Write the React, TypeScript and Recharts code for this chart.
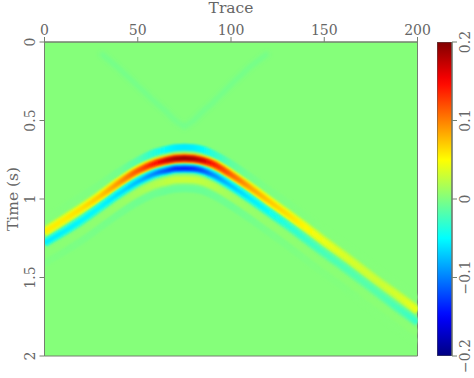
import { Bar, ComposedChart, Line, ReferenceArea, XAxis, YAxis } from 'recharts';

const traces = [0, 10, 20, 30, 40, 50, 60, 65, 70, 75, 80, 85, 90, 100, 110, 120, 130, 140, 150, 160, 170, 180, 190, 200];
const traceTicks = [0, 50, 100, 150, 200];
const timeTicks = [0, 0.5, 1, 1.5, 2];
const scaleTicks = [-0.2, -0.1, 0, 0.1, 0.2];

const peakTime = [1.21, 1.135, 1.06, 0.98, 0.895, 0.82, 0.77, 0.755, 0.743, 0.74, 0.743, 0.755, 0.775, 0.845, 0.925, 1.01, 1.095, 1.18, 1.27, 1.355, 1.445, 1.535, 1.62, 1.71];
const troughTime = [1.28, 1.21, 1.135, 1.05, 0.965, 0.89, 0.835, 0.82, 0.808, 0.805, 0.808, 0.82, 0.845, 0.915, 0.995, 1.08, 1.165, 1.255, 1.345, 1.43, 1.52, 1.61, 1.7, 1.785];
const upperTime = [1.13, 1.055, 0.98, 0.905, 0.825, 0.755, 0.7, 0.685, 0.673, 0.67, 0.673, 0.685, 0.71, 0.775, 0.855, 0.94, 1.02, 1.11, 1.2, 1.285, 1.375, 1.465, 1.55, 1.64];
const sideTime = [1.35, 1.28, 1.205, 1.12, 1.035, 0.96, 0.905, 0.89, 0.878, 0.875, 0.878, 0.89, 0.915, 0.985, 1.065, 1.15, 1.235, 1.325, 1.415, 1.5, 1.59, 1.68, 1.77, 1.855];
const tailTime = [1.41, 1.34, 1.265, 1.18, 1.095, 1.02, 0.965, 0.95, 0.938, 0.935, 0.938, 0.95, 0.975, 1.045, 1.125, 1.21, 1.295, 1.385, 1.475, 1.56, 1.65, 1.74, 1.83, 1.915];
const armTime = [null, null, null, 0.07, 0.17, 0.28, 0.39, 0.44, 0.5, 0.54, 0.5, 0.44, 0.39, 0.27, 0.16, 0.07, null, null, null, null, null, null, null, null];

const peakAmp = [0.055, 0.055, 0.06, 0.07, 0.09, 0.115, 0.145, 0.165, 0.18, 0.185, 0.18, 0.165, 0.14, 0.11, 0.085, 0.07, 0.06, 0.05, 0.04, 0.034, 0.03, 0.028, 0.032, 0.04];
const troughAmp = [-0.06, -0.058, -0.055, -0.055, -0.065, -0.08, -0.105, -0.12, -0.135, -0.14, -0.135, -0.12, -0.1, -0.075, -0.06, -0.05, -0.038, -0.03, -0.025, -0.022, -0.02, -0.02, -0.025, -0.032];
const upperAmp = [0, -0.001, -0.002, -0.003, -0.007, -0.018, -0.04, -0.05, -0.058, -0.06, -0.058, -0.05, -0.036, -0.015, -0.006, -0.003, -0.002, -0.001, 0, 0, 0, 0, 0, 0];
const sideAmp = [0.001, 0.002, 0.003, 0.004, 0.007, 0.012, 0.018, 0.022, 0.025, 0.025, 0.025, 0.022, 0.018, 0.01, 0.007, 0.005, 0.004, 0.003, 0.002, 0.002, 0.002, 0.002, 0.002, 0.002];
const tailAmp = [-0.002, -0.003, -0.004, -0.005, -0.006, -0.008, -0.009, -0.01, -0.01, -0.01, -0.01, -0.01, -0.009, -0.008, -0.006, -0.004, -0.003, -0.002, -0.001, -0.001, 0, 0, 0, 0];

const table = traces.map((trace, i) => ({
  trace,
  peak: peakTime[i],
  trough: troughTime[i],
  upper: upperTime[i],
  side: sideTime[i],
  tail: tailTime[i],
  arm: armTime[i],
}));
const scaleBar = [{ name: 'scale', range: [-0.2, 0.2] }];

const TEXT = '#666';
const FRAME = '#74806f';
const FONT = '"DejaVu Serif", serif';

// jet colormap over the -0.2..0.2 clip
function jet(v: number) {
  const t = (v + 0.2) / 0.4;
  const ch = (c: number) => Math.round(255 * Math.max(0, Math.min(1, 1.5 - Math.abs(4 * t - c))));
  return `rgb(${ch(3)},${ch(2)},${ch(1)})`;
}

const bands = [
  { id: 'tail', key: 'tail', amp: tailAmp, factor: 1, width: 7 },
  { id: 'side', key: 'side', amp: sideAmp, factor: 1, width: 7 },
  { id: 'upper', key: 'upper', amp: upperAmp, factor: 1, width: 7 },
  { id: 'peakOuter', key: 'peak', amp: peakAmp, factor: 0.4, width: 10 },
  { id: 'troughOuter', key: 'trough', amp: troughAmp, factor: 0.42, width: 9 },
  { id: 'peakMid', key: 'peak', amp: peakAmp, factor: 0.7, width: 7 },
  { id: 'troughMid', key: 'trough', amp: troughAmp, factor: 0.72, width: 6 },
  { id: 'peakCore', key: 'peak', amp: peakAmp, factor: 1, width: 4.5 },
  { id: 'troughCore', key: 'trough', amp: troughAmp, factor: 1, width: 3.5 },
];

function TopTick({ x, y, payload }: any) {
  return (
    <text x={x} y={y} textAnchor="middle" fontFamily={FONT} fontSize={14} fill={TEXT}>
      {payload.value}
    </text>
  );
}

function SideTick({ x, y, payload, dx = 0 }: any) {
  const label = String(payload.value).replace('-', '\u2212');
  return (
    <text
      x={x + dx}
      y={y}
      transform={`rotate(-90 ${x + dx} ${y})`}
      textAnchor="middle"
      dominantBaseline="central"
      fontFamily={FONT}
      fontSize={14}
      fill={TEXT}
    >
      {label}
    </text>
  );
}

export default function App() {
  return (
    <div style={{ position: 'absolute', left: 0, top: 0, width: 474, height: 378, background: '#fff' }}>
      <div style={{ position: 'absolute', left: 0, top: 0 }}>
        <ComposedChart
          width={474}
          height={378}
          data={table}
          margin={{ top: 0, right: 56.5, bottom: 22, left: 0 }}
        >
          <defs>
            <filter id="soft" filterUnits="userSpaceOnUse" x={0} y={0} width={474} height={378}>
              <feGaussianBlur stdDeviation={1.3} />
            </filter>
            <filter id="softer" filterUnits="userSpaceOnUse" x={0} y={0} width={474} height={378}>
              <feGaussianBlur stdDeviation={2.2} />
            </filter>
            {bands.map((b) => (
              <linearGradient key={b.id} id={b.id} x1="0" y1="0" x2="1" y2="0">
                {traces.map((trace, i) => (
                  <stop key={trace} offset={trace / 200} stopColor={jet(b.amp[i] * b.factor + 0.002)} />
                ))}
              </linearGradient>
            ))}
          </defs>
          <XAxis
            dataKey="trace"
            type="number"
            orientation="top"
            height={42}
            domain={[0, 200]}
            ticks={traceTicks}
            allowDataOverflow
            stroke={FRAME}
            tickSize={5}
            tick={<TopTick />}
            label={{ value: 'Trace', position: 'insideTop', offset: 2, fontFamily: FONT, fontSize: 15.5, fill: TEXT }}
          />
          <YAxis
            type="number"
            width={44.5}
            reversed
            domain={[0, 2]}
            ticks={timeTicks}
            allowDataOverflow
            stroke={FRAME}
            tickSize={5}
            tick={<SideTick dx={-8} />}
            label={{ value: 'Time (s)', angle: -90, position: 'insideLeft', offset: 12, fontFamily: FONT, fontSize: 15.5, fill: TEXT, style: { textAnchor: 'middle' } }}
          />
          <ReferenceArea x1={0} x2={200} y1={0} y2={2} fill={jet(0.002)} fillOpacity={1} stroke="none" />
          <Line
            dataKey="arm"
            stroke={jet(-0.02)}
            strokeOpacity={0.35}
            strokeWidth={5}
            dot={false}
            activeDot={false}
            isAnimationActive={false}
            style={{ filter: 'url(#softer)' }}
          />
          {bands.map((b) => (
            <Line
              key={b.id}
              dataKey={b.key}
              type="monotone"
              stroke={`url(#${b.id})`}
              strokeWidth={b.width}
              dot={false}
              activeDot={false}
              isAnimationActive={false}
              style={{ filter: 'url(#soft)' }}
            />
          ))}
          <ReferenceArea x1={0} x2={200} y1={0} y2={2} fill="none" stroke={FRAME} />
        </ComposedChart>
      </div>
      <div style={{ position: 'absolute', left: 436.5, top: 0 }}>
        <ComposedChart
          width={37.5}
          height={378}
          data={scaleBar}
          barCategoryGap={0}
          margin={{ top: 42, right: 0, bottom: 22, left: 0 }}
        >
          <defs>
            <linearGradient id="jetBar" x1="0" y1="1" x2="0" y2="0">
              {[-0.2, -0.155, -0.145, -0.05, 0, 0.05, 0.145, 0.155, 0.2].map((v) => (
                <stop key={v} offset={(v + 0.2) / 0.4} stopColor={jet(v)} />
              ))}
            </linearGradient>
          </defs>
          <XAxis dataKey="name" hide height={0} />
          <YAxis
            orientation="right"
            type="number"
            width={22.5}
            domain={[-0.2, 0.2]}
            ticks={scaleTicks}
            allowDataOverflow
            stroke={FRAME}
            tickSize={5}
            tick={<SideTick dx={6} />}
          />
          <Bar dataKey="range" fill="url(#jetBar)" stroke="#555" isAnimationActive={false} />
        </ComposedChart>
      </div>
    </div>
  );
}
